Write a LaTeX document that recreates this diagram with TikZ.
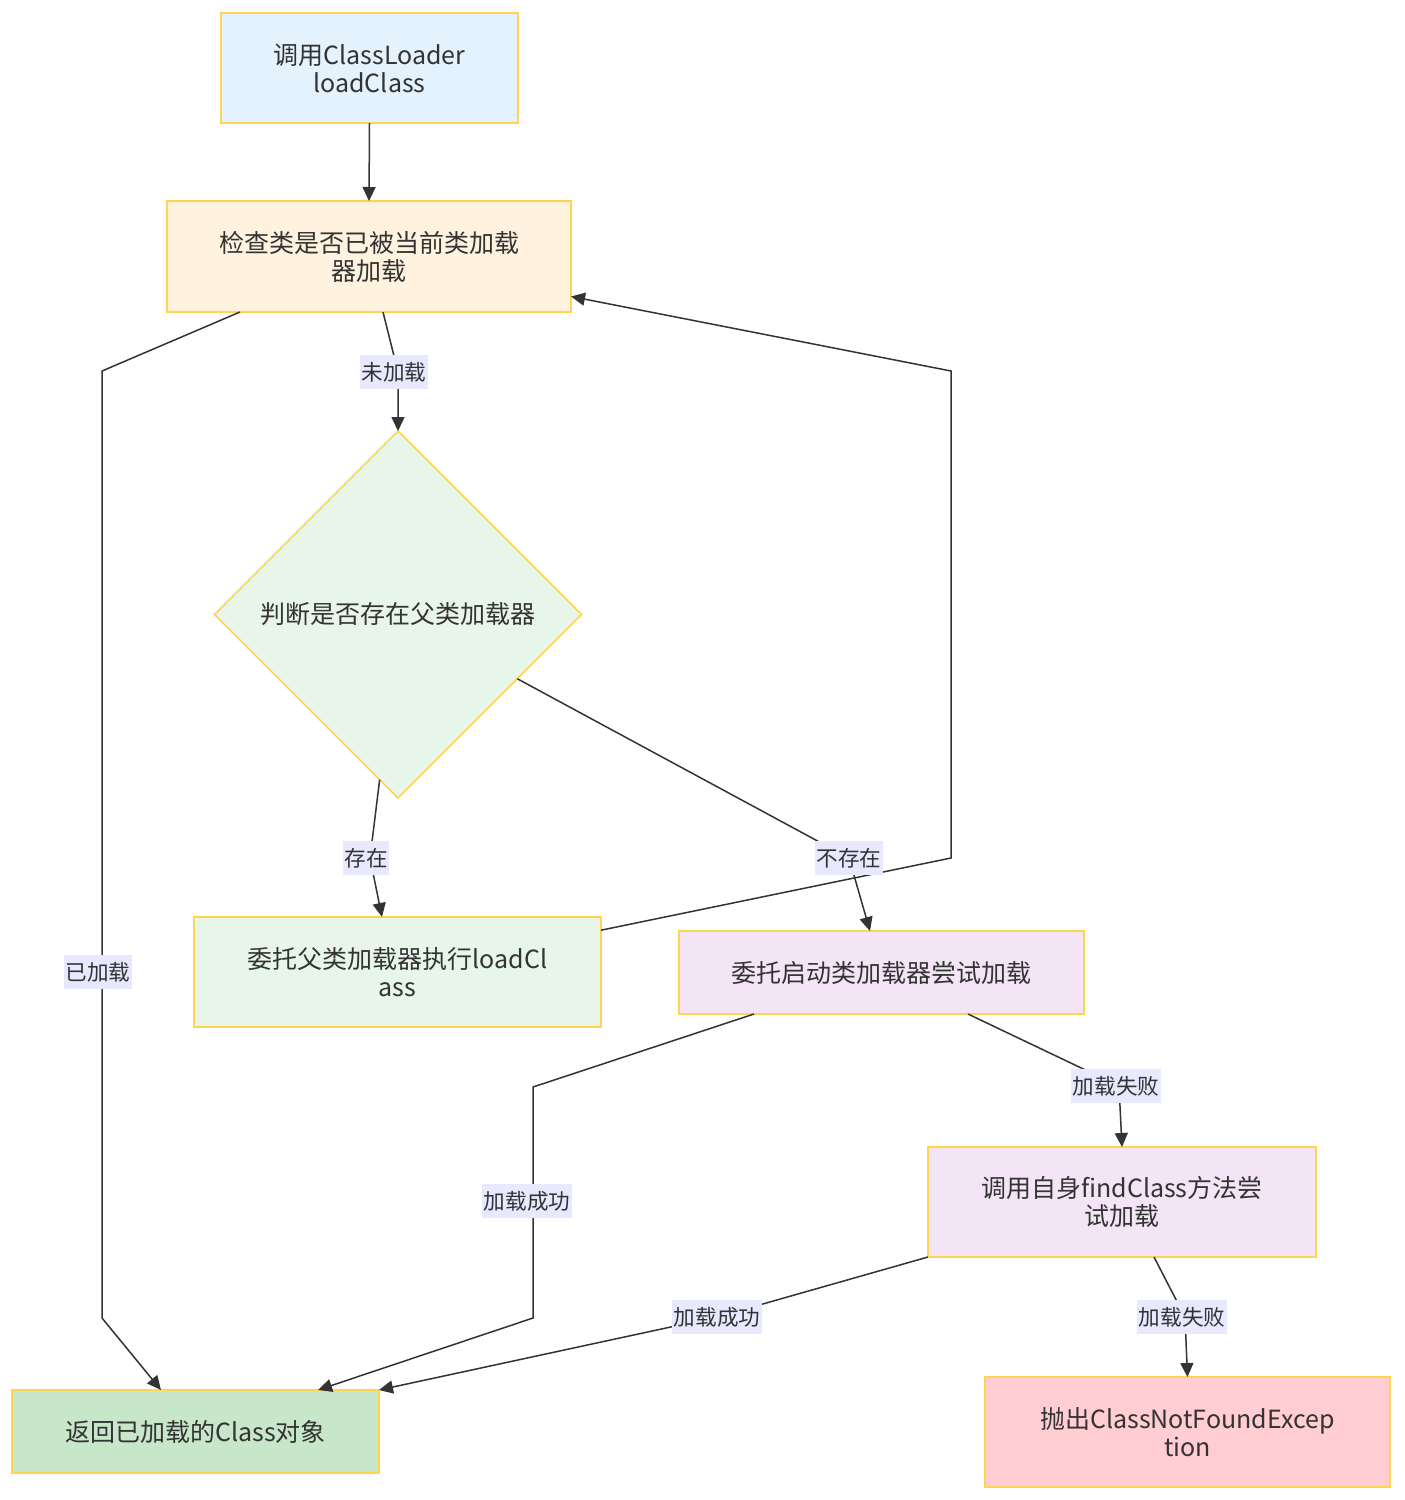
\documentclass[tikz,border=0pt]{standalone}
\usepackage{fontspec}
\setmainfont{Noto Sans CJK SC}
\usetikzlibrary{shapes.geometric,arrows.meta,calc}
\definecolor{txt}{HTML}{333333}
\definecolor{bord}{HTML}{FFD54F}
\definecolor{blueF}{HTML}{E3F2FD}
\definecolor{orangeF}{HTML}{FFF3E0}
\definecolor{greenF}{HTML}{E8F5E9}
\definecolor{purpleF}{HTML}{F3E5F5}
\definecolor{resultF}{HTML}{C8E6C9}
\definecolor{errF}{HTML}{FFCDD2}
\definecolor{lblF}{HTML}{E8E8FF}
\begin{document}
\begin{tikzpicture}[x=0.5pt,y=-0.5pt,
  box/.style={draw=bord, line width=0.75pt, inner sep=0pt, outer sep=0pt, align=center,
    text=txt, font=\fontsize{12.5pt}{14pt}\selectfont},
  dia/.style={diamond, aspect=1, draw=bord, line width=0.75pt, inner sep=0pt, outer sep=0pt,
    minimum width=183.5pt, minimum height=183.5pt, align=center, text=txt,
    font=\fontsize{12.5pt}{14pt}\selectfont},
  lbl/.style={fill=lblF, text=txt, inner xsep=0.8pt, inner ysep=0pt, minimum height=17pt,
    font=\fontsize{10.8pt}{13pt}\selectfont},
  arr/.style={draw=txt, line width=0.75pt, -{Triangle[length=7pt,width=6.5pt]}}]
\useasboundingbox (0,0) rectangle (1404,1500);
\fill[white] (0,0) rectangle (1404,1500);

\node[box, fill=blueF, minimum width=148.5pt, minimum height=55pt] (A) at (369.5,68) {调用ClassLoader\\loadClass};
\node[box, fill=orangeF, minimum width=202pt, minimum height=55.5pt] (B) at (369,256.5) {检查类是否已被当前类加载\\器加载};
\node[dia, fill=greenF] (C) at (398,614.5) {判断是否存在父类加载器};
\node[box, fill=greenF, minimum width=203.5pt, minimum height=55pt] (D) at (397.5,972) {委托父类加载器执行loadCl\\ass};
\node[box, fill=purpleF, minimum width=202.5pt, minimum height=41.5pt] (E) at (881.5,972.5) {委托启动类加载器尝试加载};
\node[box, fill=purpleF, minimum width=194pt, minimum height=55pt] (F) at (1122,1202) {调用自身findClass方法尝\\试加载};
\node[box, fill=resultF, minimum width=183.5pt, minimum height=41.5pt] (G) at (195.5,1431.5) {返回已加载的Class对象};
\node[box, fill=errF, minimum width=202.5pt, minimum height=55pt] (H) at (1187.5,1432) {抛出ClassNotFoundExcep\\tion};

% connectors
\draw[arr] (A.south) -- (B.north);
\draw[arr] (383,0 |- B.south) -- (398,372) -- (C.north);
\draw[arr] (240,0 |- B.south) -- (102,371) -- (102,1318) -- (161,0 |- G.north);
\draw[arr] ($(C.south)!0.1!(C.west)$) -- (370,858) -- (382,0 |- D.north);
\draw[arr] ($(C.east)!0.35!(C.south)$) -- (849,858) -- (870,0 |- E.north);
\draw[arr] ($(D.north east)!0.12!(D.south east)$) -- (951,858) -- (951,371) -- ($(B.north east)!0.86!(B.south east)$);
\draw[arr] (754,0 |- E.south) -- (533,1087) -- (533,1318) -- (318,0 |- G.north);
\draw[arr] (968,0 |- E.south) -- (1119,1086) -- (F.north);
\draw[arr] (F.south west) -- (717,1317) -- (G.north east);
\draw[arr] (1154,0 |- F.south) -- (1185,1317) -- (1187.5,0 |- H.north);

% labels
\node[lbl] (l1) at (394,372) {未加载};
\node[lbl] (l2) at (98,972) {已加载};
\node[lbl] (l3) at (366,858) {存在};
\node[lbl] (l4) at (849,858) {不存在};
\node[lbl] (l5) at (527,1201) {加载成功};
\node[lbl] (l6) at (1116,1086) {加载失败};
\node[lbl] (l7) at (717,1317) {加载成功};
\node[lbl] (l8) at (1182,1317) {加载失败};
\end{tikzpicture}
\end{document}
